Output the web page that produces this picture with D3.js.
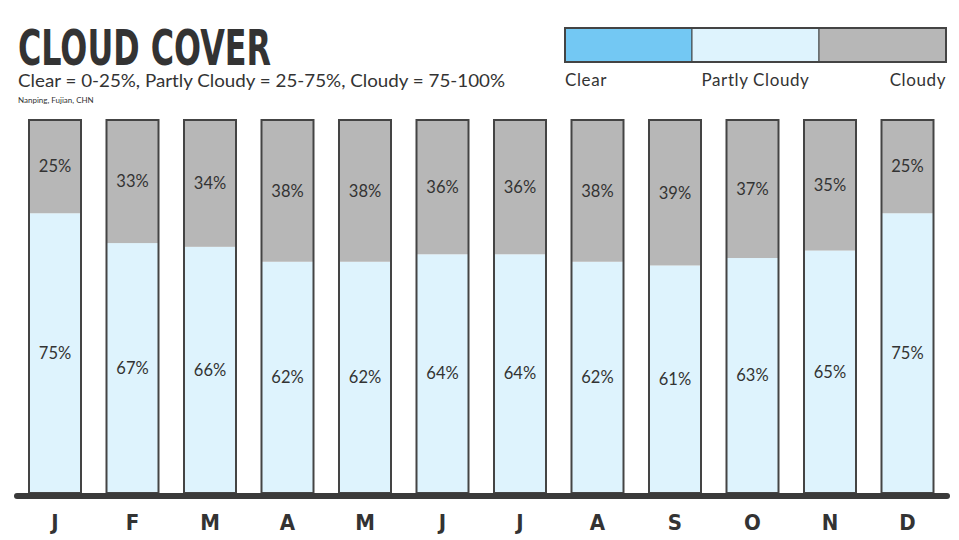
<!DOCTYPE html>
<html><head><meta charset="utf-8">
<script src="https://cdn.jsdelivr.net/npm/d3@7"></script>
<style>body{margin:0;background:#fff}svg{display:block}</style>
</head><body>
<svg id="chart" width="959" height="540"></svg>
<script>
const months = ["J","F","M","A","M","J","J","A","S","O","N","D"];
const clear = [0,0,0,0,0,0,0,0,0,0,0,0];
const partlyCloudy = [75,67,66,62,62,64,64,62,61,63,65,75];
const cloudy = [25,33,34,38,38,36,36,38,39,37,35,25];
const legendLabels = ["Clear","Partly Cloudy","Cloudy"];
const colors = ["#73c8f3","#def3fd","#b7b7b7"];

const svg = d3.select("#chart");
const ink = "#333";

const x = d3.scaleBand().domain(d3.range(months.length)).range([29, 933.5]).paddingInner(0.329).paddingOuter(0);
const y = d3.scaleLinear().domain([0,100]).range([493, 120]);

const data = months.map((m,i)=>({i, m, vals:[clear[i], partlyCloudy[i], cloudy[i]]}));
const stack = d3.stack().keys([0,1,2]).value((d,k)=>d.vals[k]);
const series = stack(data);

const g = svg.append("g");
series.forEach((s,k)=>{
  g.selectAll(null).data(s).enter().append("rect")
    .attr("x", d=>x(d.data.i))
    .attr("width", x.bandwidth())
    .attr("y", d=>y(d[1]))
    .attr("height", d=>y(d[0])-y(d[1]))
    .attr("fill", colors[k]);
  g.selectAll(null).data(s.filter(d=>d[1]-d[0]>0)).enter().append("text")
    .attr("x", d=>x(d.data.i)+x.bandwidth()/2)
    .attr("y", d=>(y(d[0])+y(d[1]))/2)
    .attr("dy","0.35em")
    .attr("text-anchor","middle")
    .attr("font-family","Lato, 'Open Sans', sans-serif")
    .attr("font-size",16.5)
    .attr("fill",ink)
    .text(d=>(d[1]-d[0])+"%");
});
// outlines
g.selectAll(null).data(data).enter().append("rect")
  .attr("x", d=>x(d.i)).attr("width", x.bandwidth())
  .attr("y", y(100)).attr("height", y(0)-y(100))
  .attr("fill","none").attr("stroke","#444").attr("stroke-width",2);

// baseline
svg.append("line").attr("x1",17).attr("x2",947).attr("y1",496).attr("y2",496)
  .attr("stroke","#3a3a3a").attr("stroke-width",6).attr("stroke-linecap","round");

// month labels
svg.selectAll(null).data(data).enter().append("text")
  .attr("x", d=>x(d.i)+x.bandwidth()/2).attr("y",530)
  .attr("text-anchor","middle")
  .attr("font-family","'Liberation Sans Narrow','DejaVu Sans Condensed',sans-serif")
  .attr("font-weight","bold").attr("font-size",22).attr("fill",ink)
  .text(d=>d.m);

// title
svg.append("text").attr("x",18).attr("y",65)
  .attr("font-family","'Liberation Sans Narrow','DejaVu Sans Condensed',sans-serif")
  .attr("font-weight","bold").attr("font-size",50).attr("fill",ink)
  .attr("textLength",253).attr("lengthAdjust","spacingAndGlyphs")
  .text("CLOUD COVER");
svg.append("text").attr("x",18).attr("y",87)
  .attr("font-family","Lato, 'Open Sans', sans-serif")
  .attr("font-size",16.5).attr("fill",ink)
  .attr("textLength",487).attr("lengthAdjust","spacingAndGlyphs")
  .text("Clear = 0-25%, Partly Cloudy = 25-75%, Cloudy = 75-100%");
svg.append("text").attr("x",18).attr("y",103)
  .attr("font-family","Lato, 'Open Sans', sans-serif")
  .attr("font-size",8).attr("fill",ink)
  .text("Nanping, Fujian, CHN");

// legend
const lx = d3.scaleBand().domain(d3.range(3)).range([565, 946]);
const leg = svg.append("g");
leg.selectAll(null).data(legendLabels).enter().append("rect")
  .attr("x",(d,i)=>lx(i)).attr("width",lx.bandwidth())
  .attr("y",28).attr("height",34)
  .attr("fill",(d,i)=>colors[i]).attr("stroke","#444").attr("stroke-width",1);
leg.append("rect").attr("x",565).attr("y",28).attr("width",381).attr("height",34)
  .attr("fill","none").attr("stroke","#444").attr("stroke-width",2);
leg.selectAll(null).data(legendLabels).enter().append("text")
  .attr("x",(d,i)=> i===0 ? lx(0) : i===1 ? lx(1)+lx.bandwidth()/2 : lx(2)+lx.bandwidth())
  .attr("y",86)
  .attr("text-anchor",(d,i)=>["start","middle","end"][i])
  .attr("font-family","Lato, 'Open Sans', sans-serif")
  .attr("font-size",17).attr("fill",ink).attr("letter-spacing",0.6)
  .text(d=>d);
</script>
</body></html>
